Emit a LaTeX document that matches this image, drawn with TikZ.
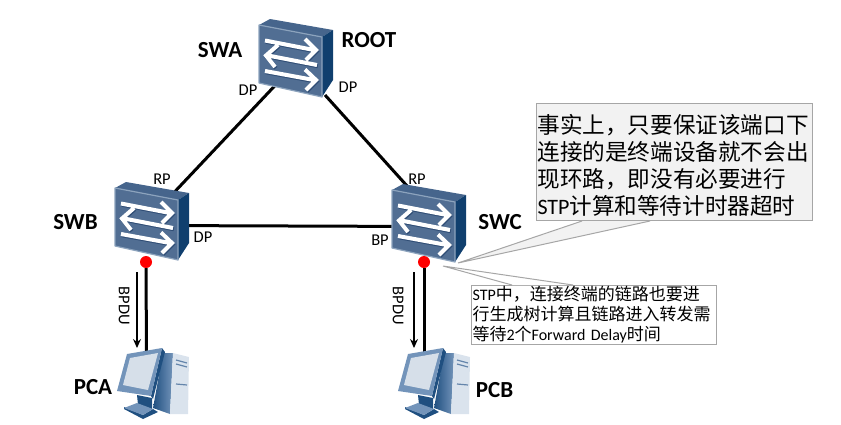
\documentclass[tikz,border=0pt]{standalone}
\usepackage{fontspec}
\setmainfont{Carlito}
\newfontfamily\cjk{Noto Sans CJK SC}
\newcommand{\zhb}[1]{{\cjk\fontsize{22.6}{27}\selectfont #1}}
\newcommand{\zhs}[1]{{\cjk\fontsize{17}{20}\selectfont #1}}
\usetikzlibrary{arrows.meta}
\usetikzlibrary{calc}

\definecolor{swfront}{HTML}{516E93}
\definecolor{swedge}{HTML}{8CA3BD}
\definecolor{swtop}{HTML}{46658C}
\definecolor{swside}{HTML}{103F6E}
\definecolor{swshade}{HTML}{2F4D75}
\definecolor{pcbezel}{HTML}{7394BA}
\definecolor{pcdark}{HTML}{1F4F80}
\definecolor{pcscreen}{HTML}{D6DFE9}
\definecolor{pcside}{HTML}{6485AB}
\definecolor{pcfront}{HTML}{DAE3ED}
\definecolor{notegray}{HTML}{A6A6A6}
\definecolor{notefill}{HTML}{F2F2F2}

\tikzset{
    devbox/.style = {inner sep = 0pt, minimum width = 75pt, minimum height = 80pt},
    pcbox/.style = {inner sep = 0pt, minimum width = 72pt, minimum height = 68pt},
    link/.style = {line width = 3pt, black},
    port/.style = {inner sep = 0pt, font = \fontsize{16.5}{17}\selectfont},
    devname/.style = {inner sep = 0pt, font = \fontsize{23}{24}\selectfont\bfseries},
    reddot/.style = {circle, fill = red, inner sep = 0pt, minimum size = 12pt},
    note/.style = {draw = notegray, line width = 1pt, inner sep = 0pt, anchor = north west, align = left},
    swarrow/.pic = {
        \draw[line width = 4pt, line join = miter, #1]
            (7,21.5) -- (56,31) (47,20) -- (58,31) -- (48,41)
            (59,46) -- (10,36.5) (20,26) -- (8,36.5) -- (17,48)
            (7,52) -- (56,61) (47,50.5) -- (58,61) -- (48,71);
    },
    switchicon/.pic = {
        \fill[swtop] (1,6) -- (12,0) -- (75,11) -- (64,18) -- cycle;
        \fill[swside] (64,18) -- (75,11) -- (75,61) -- (64,78) -- cycle;
        \fill[swfront, draw = swedge, line width = 1.2pt, line join = round]
            (1,6) -- (64,18) -- (64,78) -- (1,64) -- cycle;
        \pic[shift = {(0.8,1.2)}] {swarrow = swshade};
        \pic {swarrow = white};
    },
    pcicon/.pic = {
        \shade[left color = pcdark, right color = pcbezel] (46,6) -- (56,6) -- (53,67) -- (36,61) -- cycle;
        \fill[pcfront] (56,6) -- (72,10) -- (71,67) -- (53,67) -- cycle;
        \draw[pcside, line width = 1.2pt] (59,13) -- (70,16) (59,17) -- (70,20) (59,37) -- (70,38);
        \fill[pcdark] (20,48) -- (35,51) -- (35,63) -- (21,58) -- cycle;
        \fill[pcdark] (7,62) -- (26,72) -- (41,65) -- (36,62) -- (26,68) -- (7,60) -- cycle;
        \fill[pcbezel] (7,61) -- (20,56) -- (36,62) -- (26,68) -- cycle;
        \fill[pcdark] (45,1) -- (48,5) -- (36,52) -- (34,49) -- cycle;
        \fill[pcbezel] (10,7) -- (45,1) -- (34,49) -- (0,44) -- cycle;
        \fill[pcscreen] (13,11) -- (41,6) -- (31,43) -- (6,38) -- cycle;
    },
}

\begin{document}
\begin{tikzpicture}
    [   x = 1pt, y = -1pt
    ,   > = Stealth
    ]
    \useasboundingbox (0,0) rectangle (841,424);

    % devices
    \node[devbox] (swa) at (295.5,59) {};
    \node[devbox] (swb) at (151.5,222) {};
    \node[devbox] (swc) at (428.5,224) {};
    \node[pcbox] (pca) at (153,381) {};
    \node[pcbox] (pcb) at (434,381) {};

    % triangle
    \draw[link] ([shift={(-19,25)}]swa.center) -- ([shift={(23,-30)}]swb.center);
    \draw[link] ([shift={(29.5,36)}]swa.center) -- ([shift={(-20.5,-37)}]swc.center);
    \draw[link] ([shift={(0,3.5)}]swb.center) -- ([shift={(0,2.5)}]swc.center);

    \foreach\n in {swa,swb,swc}
    {
        \pic[shift = {(-37.5,-40)}] at (\n.center) {switchicon};
    }

    \node[reddot] (dotb) at (146,262) {};
    \node[reddot] (dotc) at (424,262) {};
    \draw[link] (dotb.south) -- ([shift={(-6.5,-29)}]pca.center);
    \draw[link] (dotc.south) -- ([shift={(-10,-29)}]pcb.center);
    \draw[-{Stealth[length=9pt,width=8pt]}, line width = 1.2pt] ([shift={(-9,10)}]dotb.center) -- ([shift={(-16,-33)}]pca.center);
    \draw[-{Stealth[length=9pt,width=8pt]}, line width = 1.2pt] ([shift={(-10,10)}]dotc.center) -- ([shift={(-20,-33)}]pcb.center);

    \foreach\n in {pca,pcb}
    {
        \pic[shift = {(-36,-34)}] at (\n.center) {pcicon};
    }

    % labels
    \foreach\m/\x/\y/\t in {swan/220/50/SWA,root/369/40/ROOT,swbn/75.5/222/SWB,swcn/500/222/SWC,pcan/93/387/PCA,pcbn/494.5/390/PCB}
    {
        \node[devname] (\m) at (\x,\y) {\t};
    }
    \foreach\m/\x/\y/\t in {dpa/248/90/DP,dpb/348/87/DP,rpb/162/179/RP,dpc/203/237/DP,rpc/417/179/RP,bpc/380/240/BP}
    {
        \node[port] (\m) at (\x,\y) {\t};
    }
    \node[port, rotate = -90] (bpdua) at (124,306) {BPDU};
    \node[port, rotate = -90] (bpduc) at (398,306) {BPDU};

    % notes
    \node[note, fill = notefill, minimum width = 276pt, minimum height = 117pt, text width = 274pt,
        font = \fontsize{22}{27}\selectfont] (notea) at (536,103)
        {\rule{0pt}{25pt}\zhb{事实上，只要保证该端口下}\\
         \zhb{连接的是终端设备就不会出}\\
         \zhb{现环路，即没有必要进行}\\
         STP\zhb{计算和等待计时器超时}};
    \coordinate (tipa) at (458,263);
    \fill[notefill] ([xshift=46pt]notea.south west) -- (tipa) -- ([xshift=114pt]notea.south west) -- cycle;
    \draw[notegray, line width = 1pt] ([xshift=46pt]notea.south west) -- (tipa) -- ([xshift=114pt]notea.south west);

    \node[note, fill = white, minimum width = 245pt, minimum height = 59pt, text width = 243pt,
        font = \fontsize{16}{20}\selectfont] (noteb) at (471,285)
        {STP\zhs{中，连接终端的链路也要进}\\
         \zhs{行生成树计算且链路进入转发需}\\
         \zhs{等待}2\zhs{个}Forward Delay\zhs{时间}};
    \coordinate (tipb) at (443,266);
    \fill[white] ([xshift=41pt]noteb.north west) -- (tipb) -- ([xshift=102pt]noteb.north west) -- cycle;
    \draw[notegray, line width = 1pt] ([xshift=41pt]noteb.north west) -- (tipb) -- ([xshift=102pt]noteb.north west);
\end{tikzpicture}
\end{document}
